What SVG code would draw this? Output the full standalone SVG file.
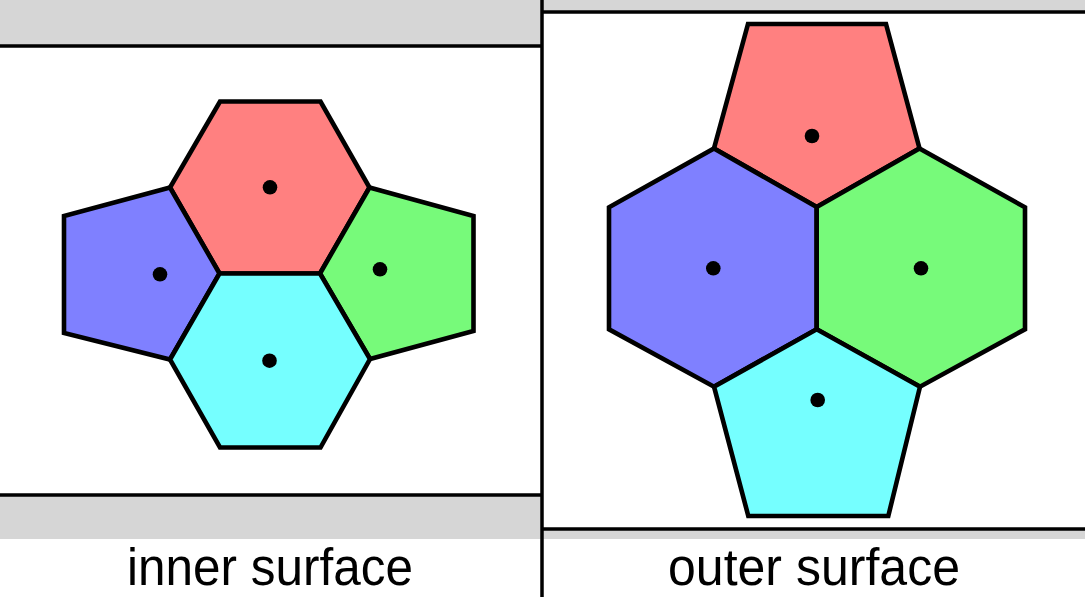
<svg xmlns="http://www.w3.org/2000/svg" width="1085" height="597" viewBox="0 0 1085 597">
<style>
.band{fill:#d6d6d6}
.rule{stroke:#000;stroke-width:3.5;fill:none}
.cell{stroke:#000;stroke-width:4.6;stroke-linejoin:miter}
.red{fill:#ff8080}
.blue{fill:#7f80ff}
.green{fill:#77fa7a}
.cyan{fill:#75ffff}
.dot{fill:#000}
.lbl{font-family:"Liberation Sans",Arial,sans-serif;font-size:51px;fill:#000;text-anchor:middle}
</style>
<rect x="0" y="0" width="1085" height="597" fill="#fff"/>
<g id="panels">
<rect class="band" x="0" y="0" width="542" height="46"/>
<rect class="band" x="0" y="495" width="542" height="44"/>
<rect class="band" x="542" y="0" width="543" height="12"/>
<rect class="band" x="542" y="529" width="543" height="10"/>
<line class="rule" x1="0" y1="46" x2="542" y2="46"/>
<line class="rule" x1="0" y1="495" x2="542" y2="495"/>
<line class="rule" x1="542" y1="12" x2="1085" y2="12"/>
<line class="rule" x1="542" y1="529" x2="1085" y2="529"/>
<line class="rule" x1="542" y1="0" x2="542" y2="597"/>
</g>
<g id="inner-red">
<polygon class="cell red" points="220,101.5 320.5,101.5 369.5,187.5 320,273.5 219.5,273.5 170,187.5"/>
<circle class="dot" cx="270" cy="187.3" r="7.3"/>
</g>
<g id="inner-blue">
<polygon class="cell blue" points="170,187.5 64,216 64,333 170,359.5 219.5,273.5"/>
<circle class="dot" cx="160" cy="274.3" r="7.3"/>
</g>
<g id="inner-green">
<polygon class="cell green" points="369.5,187.5 473.5,216 473.5,331 370,359 320,273.5"/>
<circle class="dot" cx="380" cy="269.3" r="7.3"/>
</g>
<g id="inner-cyan">
<polygon class="cell cyan" points="219.5,273.5 320,273.5 370,359 320.5,447.5 220,447.5 170,359.5"/>
<circle class="dot" cx="269.5" cy="360.7" r="7.3"/>
</g>
<g id="outer-red">
<polygon class="cell red" points="748,24 886,24 919.5,148.5 816.7,207 714,148.5"/>
<circle class="dot" cx="812" cy="136" r="7.3"/>
</g>
<g id="outer-blue">
<polygon class="cell blue" points="714,148.5 816.7,207 816.7,329.3 714,386.7 609,329.3 609,207.3"/>
<circle class="dot" cx="713.3" cy="268.3" r="7.3"/>
</g>
<g id="outer-green">
<polygon class="cell green" points="919.5,148.5 1025,207.3 1025,329.3 920,386.7 816.7,329.3 816.7,207"/>
<circle class="dot" cx="921" cy="268.3" r="7.3"/>
</g>
<g id="outer-cyan">
<polygon class="cell cyan" points="714,386.7 816.7,329.3 920,386.7 888.3,516 748.3,516"/>
<circle class="dot" cx="817.7" cy="400" r="7.3"/>
</g>
<g id="connectors"/>
<g id="labels">
<text class="lbl" x="270" y="585" textLength="286" lengthAdjust="spacingAndGlyphs">inner surface</text>
<text class="lbl" x="814" y="585" textLength="292" lengthAdjust="spacingAndGlyphs">outer surface</text>
</g>
</svg>
